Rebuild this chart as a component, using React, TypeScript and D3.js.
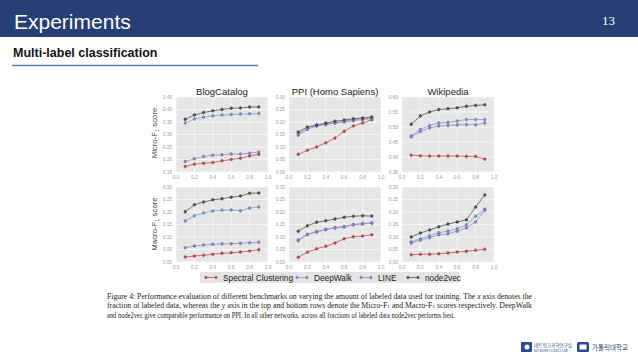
import * as d3 from "d3";

const W = 638;
const H = 359;

// fraction of labeled data
const FRACTIONS = [0.1, 0.2, 0.3, 0.4, 0.5, 0.6, 0.7, 0.8, 0.9];
const X_TICKS = [0, 0.2, 0.4, 0.6, 0.8, 1.0];

const METHODS = ["Spectral Clustering", "DeepWalk", "LINE", "node2vec"];
const COLORS = ["#c44e52", "#7f9fd0", "#9a8cc4", "#555555"];
const EDGE = ["#8e2f33", "#3e5f95", "#5b4f8a", "#2a2a2a"];

// Micro-F1 (top row)
const BLOG_MICRO_SC = [0.172, 0.181, 0.185, 0.188, 0.195, 0.2, 0.205, 0.214, 0.221];
const BLOG_MICRO_DW = [0.346, 0.362, 0.369, 0.375, 0.378, 0.38, 0.382, 0.383, 0.384];
const BLOG_MICRO_LINE = [0.192, 0.203, 0.212, 0.217, 0.219, 0.222, 0.222, 0.225, 0.23];
const BLOG_MICRO_N2V = [0.361, 0.378, 0.388, 0.395, 0.4, 0.405, 0.406, 0.41, 0.41];

const PPI_MICRO_SC = [0.071, 0.087, 0.1, 0.117, 0.136, 0.163, 0.184, 0.196, 0.209];
const PPI_MICRO_DW = [0.147, 0.171, 0.184, 0.189, 0.196, 0.2, 0.205, 0.209, 0.213];
const PPI_MICRO_LINE = [0.153, 0.173, 0.187, 0.193, 0.197, 0.203, 0.209, 0.212, 0.216];
const PPI_MICRO_N2V = [0.16, 0.18, 0.188, 0.196, 0.203, 0.208, 0.213, 0.216, 0.22];

const WIKI_MICRO_SC = [0.406, 0.404, 0.403, 0.403, 0.403, 0.403, 0.402, 0.402, 0.393];
const WIKI_MICRO_DW = [0.47, 0.492, 0.505, 0.513, 0.515, 0.52, 0.525, 0.525, 0.525];
const WIKI_MICRO_LINE = [0.467, 0.485, 0.497, 0.503, 0.505, 0.507, 0.508, 0.507, 0.513];
const WIKI_MICRO_N2V = [0.509, 0.537, 0.55, 0.558, 0.561, 0.564, 0.569, 0.572, 0.574];

// Macro-F1 (bottom row)
const BLOG_MACRO_SC = [0.02, 0.024, 0.027, 0.031, 0.035, 0.037, 0.04, 0.044, 0.049];
const BLOG_MACRO_DW = [0.164, 0.185, 0.196, 0.204, 0.207, 0.208, 0.205, 0.216, 0.22];
const BLOG_MACRO_LINE = [0.057, 0.064, 0.068, 0.071, 0.073, 0.073, 0.075, 0.077, 0.079];
const BLOG_MACRO_N2V = [0.201, 0.229, 0.24, 0.249, 0.253, 0.259, 0.264, 0.275, 0.276];

const PPI_MACRO_SC = [0.019, 0.039, 0.053, 0.063, 0.076, 0.093, 0.101, 0.104, 0.109];
const PPI_MACRO_DW = [0.085, 0.109, 0.12, 0.129, 0.136, 0.14, 0.149, 0.152, 0.155];
const PPI_MACRO_LINE = [0.088, 0.111, 0.122, 0.131, 0.138, 0.142, 0.15, 0.154, 0.157];
const PPI_MACRO_N2V = [0.123, 0.145, 0.159, 0.165, 0.172, 0.179, 0.183, 0.185, 0.184];

const WIKI_MACRO_SC = [0.029, 0.031, 0.031, 0.033, 0.036, 0.04, 0.043, 0.047, 0.051];
const WIKI_MACRO_DW = [0.08, 0.093, 0.105, 0.117, 0.124, 0.133, 0.149, 0.183, 0.211];
const WIKI_MACRO_LINE = [0.076, 0.087, 0.097, 0.109, 0.113, 0.123, 0.137, 0.16, 0.207];
const WIKI_MACRO_N2V = [0.1, 0.116, 0.128, 0.141, 0.152, 0.16, 0.169, 0.22, 0.268];

const Y_BLOG_MICRO = [0.15, 0.2, 0.25, 0.3, 0.35, 0.4, 0.45];
const Y_PPI = [0, 0.05, 0.1, 0.15, 0.2, 0.25, 0.3];
const Y_WIKI_MICRO = [0.35, 0.4, 0.45, 0.5, 0.55, 0.6];

const CAPTION = [
  "Figure 4: Performance evaluation of different benchmarks on varying the amount of labeled data used for training. The ",
  "fraction of labeled data, whereas the ",
  "and node2vec give comparable performance on PPI. In all other networks, across all fractions of labeled data node2vec performs best.",
];

const SANS = "'Liberation Sans', Arial, sans-serif";
const SERIF = "'Liberation Serif', 'Times New Roman', serif";

const COLS = [176, 289, 402]; // panel left edges
const PW = 92;
const ROWS = [
  [97, 172],
  [187, 262],
];

function Panel({
  left,
  top,
  bottom,
  title,
  yTicks,
  series,
}: {
  left: number;
  top: number;
  bottom: number;
  title?: string;
  yTicks: number[];
  series: number[][];
}) {
  const x = d3.scaleLinear().domain([0, 1]).range([left, left + PW]);
  const y = d3
    .scaleLinear()
    .domain([yTicks[0], yTicks[yTicks.length - 1]])
    .range([bottom, top]);
  const line = d3
    .line<number>()
    .x((_, i) => x(FRACTIONS[i]))
    .y((d) => y(d));
  const fmtY = d3.format(".2f");
  const fmtX = d3.format(".1f");

  return (
    <g>
      <rect x={left} y={top} width={PW} height={bottom - top} fill="#e6e6e6" />
      {yTicks.map((t) => (
        <g key={"y" + t}>
          <line x1={left} x2={left + PW} y1={y(t)} y2={y(t)} stroke="#fff" strokeWidth={0.6} />
          <text
            x={left - 4}
            y={y(t) + 1.7}
            textAnchor="end"
            fontSize={4.8}
            fill="#9a9a9a"
            fontFamily={SANS}
          >
            {fmtY(t)}
          </text>
        </g>
      ))}
      {X_TICKS.map((t) => (
        <g key={"x" + t}>
          <line x1={x(t)} x2={x(t)} y1={top} y2={bottom} stroke="#fff" strokeWidth={0.6} />
          <text
            x={x(t)}
            y={bottom + 7}
            textAnchor="middle"
            fontSize={4.8}
            fill="#9a9a9a"
            fontFamily={SANS}
          >
            {fmtX(t)}
          </text>
        </g>
      ))}
      {series.map((s, si) => (
        <g key={si}>
          <path d={line(s) ?? ""} fill="none" stroke={COLORS[si]} strokeWidth={0.8} />
          {s.map((v, i) => (
            <g key={i}>
              <line
                x1={x(FRACTIONS[i])}
                x2={x(FRACTIONS[i])}
                y1={y(v) - 1.8}
                y2={y(v) + 1.8}
                stroke={EDGE[si]}
                strokeWidth={0.4}
              />
              <circle cx={x(FRACTIONS[i])} cy={y(v)} r={1.3} fill={COLORS[si]} stroke={EDGE[si]} strokeWidth={0.4} />
            </g>
          ))}
        </g>
      ))}
      {title && (
        <text
          x={left + PW / 2}
          y={top - 2}
          textAnchor="middle"
          fontSize={9.5}
          fill="#222"
          fontFamily={SANS}
        >
          {title}
        </text>
      )}
    </g>
  );
}

function Legend() {
  const offsets = [0, 91, 155, 202];
  return (
    <g>
      <rect x={200} y={272} width={259} height={11} fill="#e4e4e4" />
      {METHODS.map((m, i) => {
        const x0 = 205 + offsets[i];
        return (
          <g key={m}>
            <line x1={x0} x2={x0 + 12} y1={277.5} y2={277.5} stroke={COLORS[i]} strokeWidth={0.8} />
            <circle cx={x0 + 1} cy={277.5} r={1.2} fill={COLORS[i]} stroke={EDGE[i]} strokeWidth={0.4} />
            <circle cx={x0 + 11} cy={277.5} r={1.2} fill={COLORS[i]} stroke={EDGE[i]} strokeWidth={0.4} />
            <text x={x0 + 18} y={280.5} fontSize={8.3} fill="#222" fontFamily={SANS}>
              {m}
            </text>
          </g>
        );
      })}
    </g>
  );
}

export default function App() {
  const top = [
    { title: "BlogCatalog", ticks: Y_BLOG_MICRO, s: [BLOG_MICRO_SC, BLOG_MICRO_DW, BLOG_MICRO_LINE, BLOG_MICRO_N2V] },
    { title: "PPI (Homo Sapiens)", ticks: Y_PPI, s: [PPI_MICRO_SC, PPI_MICRO_DW, PPI_MICRO_LINE, PPI_MICRO_N2V] },
    { title: "Wikipedia", ticks: Y_WIKI_MICRO, s: [WIKI_MICRO_SC, WIKI_MICRO_DW, WIKI_MICRO_LINE, WIKI_MICRO_N2V] },
  ];
  const bottom = [
    [BLOG_MACRO_SC, BLOG_MACRO_DW, BLOG_MACRO_LINE, BLOG_MACRO_N2V],
    [PPI_MACRO_SC, PPI_MACRO_DW, PPI_MACRO_LINE, PPI_MACRO_N2V],
    [WIKI_MACRO_SC, WIKI_MACRO_DW, WIKI_MACRO_LINE, WIKI_MACRO_N2V],
  ];

  return (
    <svg
      width={W}
      height={H}
      style={{ position: "absolute", left: 0, top: 0, background: "#fff" }}
    >
      {/* slide header */}
      <rect x={0} y={0} width={W} height={37} fill="#263f74" />
      <text x={14} y={29} fontSize={21} fill="#fff" fontFamily={SANS}>
        Experiments
      </text>
      <text x={602} y={25} fontSize={13} fill="#fff" fontFamily={SERIF}>
        13
      </text>
      <text x={13} y={57} fontSize={12.5} fontWeight="bold" fill="#111" fontFamily={SANS}>
        Multi-label classification
      </text>
      <line x1={12} x2={258} y1={65.5} y2={65.5} stroke="#4f80cf" strokeWidth={1.3} />

      {top.map((p, i) => (
        <Panel key={p.title} left={COLS[i]} top={ROWS[0][0]} bottom={ROWS[0][1]} title={p.title} yTicks={p.ticks} series={p.s} />
      ))}
      {bottom.map((s, i) => (
        <Panel key={i} left={COLS[i]} top={ROWS[1][0]} bottom={ROWS[1][1]} yTicks={Y_PPI} series={s} />
      ))}

      <text transform="translate(157,133) rotate(-90)" textAnchor="middle" fontSize={7.8} fill="#444" fontFamily={SANS}>
        Micro-F<tspan fontSize={5.5} dy={1.5}>1</tspan>
        <tspan dy={-1.5}> score</tspan>
      </text>
      <text transform="translate(157,224) rotate(-90)" textAnchor="middle" fontSize={7.8} fill="#444" fontFamily={SANS}>
        Macro-F<tspan fontSize={5.5} dy={1.5}>1</tspan>
        <tspan dy={-1.5}> score</tspan>
      </text>

      <Legend />

      {/* caption */}
      <g fontFamily={SERIF} fontSize={7.2} fill="#1a1a1a">
        <text x={107} y={298.5} textLength={425} lengthAdjust="spacingAndGlyphs">
          {CAPTION[0]}
          <tspan fontStyle="italic">x</tspan> axis denotes the
        </text>
        <text x={107} y={308} textLength={425} lengthAdjust="spacingAndGlyphs">
          {CAPTION[1]}
          <tspan fontStyle="italic">y</tspan> axis in the top and bottom rows denote the Micro-F
          <tspan fontSize={5}>1</tspan> and Macro-F<tspan fontSize={5}>1</tspan> scores respectively. DeepWalk
        </text>
        <text x={107} y={317.5} textLength={348} lengthAdjust="spacingAndGlyphs">
          {CAPTION[2]}
        </text>
      </g>

      {/* lab / university logos */}
      <g fontFamily="'Noto Sans CJK KR', sans-serif">
        <rect x={521} y={342} width={11} height={10} fill="#2a4a9a" rx={1} />
        <circle cx={527} cy={347} r={2.5} fill="#fff" />
        <text x={534} y={347} fontSize={4.6} fill="#2a3f80">네트워크과학연구실</text>
        <text x={534} y={352} fontSize={3} fill="#2a3f80">NETWORK SCIENCE LAB</text>
        <rect x={577} y={342} width={12} height={10} fill="#2a4a9a" rx={1.5} />
        <rect x={579.5} y={344.5} width={7} height={5} fill="#fff" />
        <text x={592} y={350} fontSize={6.5} fill="#2a3f80">가톨릭대학교</text>
      </g>
    </svg>
  );
}
